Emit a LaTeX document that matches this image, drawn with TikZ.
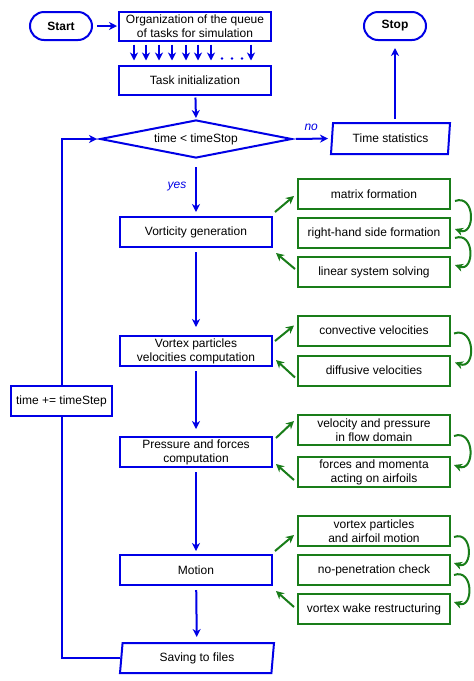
\documentclass[tikz,border=0pt]{standalone}
\usepackage{fontspec}
\setmainfont{Liberation Sans}
\usetikzlibrary{shapes.geometric,arrows.meta,calc}
\definecolor{fblue}{RGB}{0,0,230}
\definecolor{fgreen}{RGB}{25,125,25}
\tikzset{
  txt/.style={font=\fontsize{12}{14}\selectfont, align=center, inner sep=0pt},
  bbox/.style={txt, draw=fblue, line width=2pt, minimum width=152, minimum height=30},
  gbox/.style={txt, draw=fgreen, line width=2pt, minimum width=152, minimum height=30},
  term/.style={txt, draw=fblue, line width=2pt, rounded corners=14, minimum width=62, minimum height=28, font=\bfseries\fontsize{12}{14}\selectfont},
  iobox/.style={txt, draw=fblue, line width=2pt, trapezium, trapezium left angle=77, trapezium right angle=103, trapezium stretches body, minimum height=30},
  dia/.style={txt, draw=fblue, line width=2pt, diamond, shape aspect=5, minimum width=192, minimum height=38},
  lbl/.style={txt, text=fblue, font=\itshape\fontsize{12}{14}\selectfont},
  bline/.style={draw=fblue, line width=2pt},
  barr/.style={bline, -{Stealth[length=8pt,width=8pt,inset=2.5pt]}, shorten <=4pt, shorten >=4pt},
  garr/.style={draw=fgreen, line width=2pt, -{Stealth[length=8pt,width=8pt,inset=2.5pt]}},
  carr/.style={garr, out=20, in=-20, looseness=2}
}
\begin{document}
\begin{tikzpicture}[x=1pt,y=-1pt]
\fill[white] (0,0) rectangle (474,681);
\useasboundingbox (0,0) rectangle (474,681);

% main column
\node[term] (start) at (61,26) {Start};
\node[bbox, minimum height=29] (org) at (195,26) {Organization of the queue\\of tasks for simulation};
\node[term] (stop) at (395,26) {Stop};
\node[bbox, minimum height=29] (init) at (195,80) {Task initialization};
\node[dia] (cond) at (196,139) {time < timeStop};
\node[iobox, minimum width=119, minimum height=31] (ts) at (390.5,138.5) {Time statistics};
\node[bbox] (vort) at (196,232) {Vorticity generation};
\node[bbox] (vp) at (196,351) {Vortex particles\\velocities computation};
\node[bbox] (pf) at (196,452) {Pressure and forces\\computation};
\node[bbox] (mot) at (196,570) {Motion};
\node[iobox, minimum width=154] (save) at (197,658) {Saving to files};
\node[bbox, minimum width=101] (tstep) at (61.5,401) {time += timeStep};

% green sub-steps
\node[gbox] (mtx) at (374,194) {matrix formation};
\node[gbox] (rhs) at (374,233) {right-hand side formation};
\node[gbox] (lin) at (374,272) {linear system solving};
\node[gbox] (conv) at (374,330.5) {convective velocities};
\node[gbox] (diff) at (374,370.5) {diffusive velocities};
\node[gbox] (vel) at (374,430) {velocity and pressure\\in flow domain};
\node[gbox] (forc) at (374,472) {forces and momenta\\acting on airfoils};
\node[gbox] (vpm) at (374,531) {vortex particles\\and airfoil motion};
\node[gbox] (nopen) at (374,570) {no-penetration check};
\node[gbox] (wake) at (374,609) {vortex wake restructuring};

% top connectors
\draw[barr, shorten <=4pt, shorten >=1pt] (start) -- (org);
\foreach \dx in {16,28,41,54,68,80,93,133}
  \draw[barr, shorten <=3pt, shorten >=4pt] ($(org.south west)+(\dx,0)$) -- ($(init.north west)+(\dx,0)$);
\foreach \dx in {104,114,124}
  \fill[fblue] ($(org.south west)+(\dx,17)$) circle (1.4);
\draw[barr, shorten <=2pt, shorten >=1pt] (init) -- (cond.north);
\draw[barr, shorten <=3pt, shorten >=3pt] (cond.east) -- node[lbl, pos=0.48, yshift=11pt] (no) {no} (ts.west);
\draw[barr, shorten <=3pt, shorten >=7pt] (ts.north -| stop.south) -- (stop.south);
\draw[barr, shorten <=8pt, shorten >=4pt] (cond.south) -- node[lbl, pos=0.49, xshift=-19pt] (yes) {yes} (vort.north);

% main vertical flow
\draw[barr, shorten >=8pt] (vort) -- (vp);
\draw[barr, shorten >=7pt] (vp) -- (pf);
\draw[barr, shorten >=3pt] (pf) -- (mot);
\draw[barr, shorten >=5pt] (mot) -- (save);

% loop back
\draw[bline] (save.west) -- (save.west -| tstep.south) -- (tstep.south);
\draw[barr, shorten <=0pt, shorten >=2pt] (tstep.north) -- (tstep.north |- cond.west) -- (cond.west);

% green diagonal arrows
\draw[garr] ($(vort.north east)+(2,-4)$) -- ($(mtx.west)+(-3,2)$);
\draw[garr] ($(lin.west)+(-2,-3)$) -- ($(vort.south east)+(3,5)$);
\draw[garr] ($(vp.north east)+(2,6)$) -- ($(conv.west)+(-3,-5)$);
\draw[garr] ($(diff.west)+(-2,7)$) -- ($(vp.south east)+(3,-7)$);
\draw[garr] ($(pf.north east)+(3,2)$) -- ($(vel.west)+(-3,-9)$);
\draw[garr] ($(forc.west)+(-3,8)$) -- ($(pf.south east)+(3,-4)$);
\draw[garr] ($(mot.north east)+(2,-3)$) -- ($(vpm.west)+(-3,4)$);
\draw[garr] ($(wake.west)+(-3,-2)$) -- ($(mot.south east)+(3,5)$);

% green curved arrows
\draw[carr] ($(mtx.east)+(4,7)$) to ($(rhs.east)+(4,-4)$);
\draw[carr] ($(rhs.east)+(4,5)$) to ($(lin.east)+(4,-7)$);
\draw[carr] ($(conv.east)+(3,3)$) to ($(diff.east)+(4,-8)$);
\draw[carr] ($(vel.east)+(3,6)$) to ($(forc.east)+(3,-7)$);
\draw[carr] ($(vpm.east)+(3,6)$) to ($(nopen.east)+(3,-7)$);
\draw[carr] ($(nopen.east)+(3,5)$) to ($(wake.east)+(3,-7)$);
\end{tikzpicture}
\end{document}
